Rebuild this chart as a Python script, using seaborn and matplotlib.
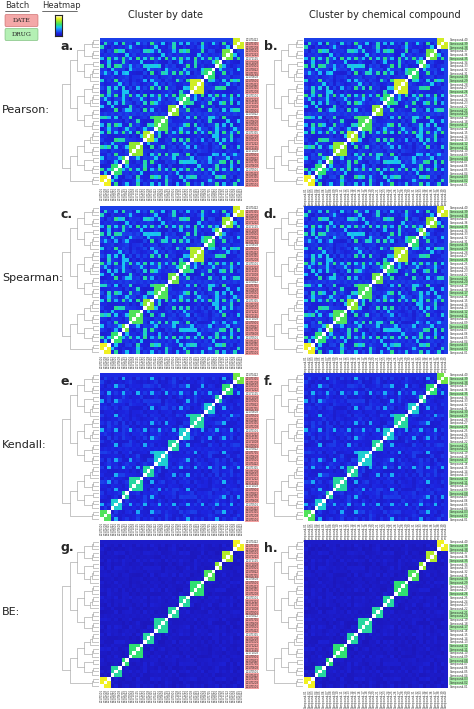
import numpy as np
import matplotlib
matplotlib.use("Agg")
import matplotlib.pyplot as plt
import seaborn as sns
from matplotlib.colors import LinearSegmentedColormap
from matplotlib.patches import FancyBboxPatch

sns.set_style("white")
plt.rcParams['font.family'] = ['DejaVu Sans']

methods = ["Pearson:", "Spearman:", "Kendall:", "BE:"]
letters = [["a.", "b."], ["c.", "d."], ["e.", "f."], ["g.", "h."]]
col_titles = ["Cluster by date", "Cluster by chemical compound"]
block_sizes = [3, 3, 2, 4, 3, 4, 3, 3, 4, 3, 2, 3, 3]
block_levels = {
    "Pearson:":  [0.85, 0.55, 0.60, 0.70, 0.75, 0.60, 0.70, 0.55, 0.80, 0.55, 0.60, 0.65, 0.80],
    "Spearman:": [0.85, 0.55, 0.65, 0.60, 0.70, 0.60, 0.65, 0.55, 0.75, 0.55, 0.65, 0.70, 0.80],
    "Kendall:":  [0.60, 0.45, 0.50, 0.50, 0.50, 0.45, 0.50, 0.45, 0.50, 0.45, 0.50, 0.55, 0.65],
    "BE:":       [0.85, 0.50, 0.55, 0.55, 0.50, 0.50, 0.50, 0.50, 0.55, 0.60, 0.70, 0.75, 0.85],
}
background = {"Pearson:": 0.07, "Spearman:": 0.07, "Kendall:": 0.06, "BE:": 0.02}
texture_gain = {"Pearson:": 1.3, "Spearman:": 1.25, "Kendall:": 0.9, "BE:": 0.5}
row_profile = [0.30, 0.05, 0.22, 0.10, 0.35, 0.02, 0.18, 0.27, 0.08, 0.15,
               0.33, 0.04, 0.20, 0.12, 0.28, 0.06, 0.24, 0.09, 0.31, 0.14,
               0.03, 0.26, 0.11, 0.19, 0.36, 0.07, 0.23, 0.13, 0.29, 0.05,
               0.21, 0.16, 0.34, 0.02, 0.25, 0.10, 0.17, 0.32, 0.08, 0.20]
date_labels = ["2017%02d%02d" % (1 + i % 12, 1 + (i * 7) % 28) for i in range(40)]
drug_labels = ["Compound-%02d" % (i + 1) for i in range(40)]

cmap = LinearSegmentedColormap.from_list("j", [(0.0, "#1c14b4"), (0.12, "#1c24e0"),
                                              (0.3, "#1a80ff"), (0.42, "#18c8f0"),
                                              (0.55, "#30e070"), (0.7, "#90e830"),
                                              (0.85, "#f0f020"), (1.0, "#ffffff")])

def build(method):
    p = np.array(row_profile)
    n = len(p)
    i, j = np.meshgrid(np.arange(n), np.arange(n), indexing="ij")
    T = p[(i * j + i + j) % n] * texture_gain[method]
    M = background[method] + np.where(T > 0.3, T, T * 0.4)
    s = 0
    for b, lv in zip(block_sizes, block_levels[method]):
        M[s:s + b, s:s + b] = lv
        s += b
    np.fill_diagonal(M, 1.0)
    return np.clip(M, 0, 1)[::-1, :]

def draw_dendro(ax):
    n = sum(block_sizes)
    ys = np.arange(n) + 0.5
    nodes = []
    s = 0
    for b in block_sizes:
        cur = [(0.0, ys[s])]
        for k in range(1, b):
            y0 = cur[-1][1]; h = 0.15 + 0.05 * k
            ax.plot([0, h, h, cur[-1][0]], [ys[s + k], ys[s + k], y0, y0], color="#999", lw=0.4)
            cur.append((h, (ys[s + k] + y0) / 2))
        nodes.append(cur[-1]); s += b
    level = 0.5
    while len(nodes) > 1:
        new = []
        for a in range(0, len(nodes) - 1, 2):
            (x1, y1), (x2, y2) = nodes[a], nodes[a + 1]
            ax.plot([x1, level, level, x2], [y1, y1, y2, y2], color="#999", lw=0.4)
            new.append((level, (y1 + y2) / 2))
        if len(nodes) % 2: new.append(nodes[-1])
        nodes = new; level += 0.25
    ax.set_xlim(level, 0); ax.set_ylim(n, 0); ax.axis("off")

W, H = 474, 709
fig = plt.figure(figsize=(W / 100, H / 100), dpi=100)
def ax_px(x0, y0, x1, y1):
    return fig.add_axes([x0 / W, 1 - y1 / H, (x1 - x0) / W, (y1 - y0) / H])

tops = [38, 206, 373, 540]
hm_h = 148
lefts = [100, 304]
for r, m in enumerate(methods):
    M = build(m)
    t = tops[r]
    for c in range(2):
        L = lefts[c]
        ax = ax_px(L, t, L + 144, t + hm_h)
        labs = date_labels if c == 0 else drug_labels
        sns.heatmap(M, ax=ax, cmap=cmap, vmin=0, vmax=1, cbar=False,
                    xticklabels=labs, yticklabels=labs[::-1])
        ax.yaxis.tick_right()
        ax.tick_params(axis="y", labelsize=1.9, length=0, pad=1, rotation=0)
        ax.tick_params(axis="x", labelsize=1.9, length=0, pad=1, rotation=90)
        for k, lab in enumerate(ax.get_yticklabels()):
            if (c == 0 and k % 5 != 0) or (c == 1 and k % 9 in (1, 2, 5)):
                lab.set_bbox(dict(boxstyle="square,pad=0.1", lw=0,
                                  fc="#f4a0a0" if c == 0 else "#a8eca8"))
        dax = ax_px(L - 45, t, L - 1, t + hm_h)
        draw_dendro(dax)
        fig.text((L - 40) / W, 1 - (t + 8) / H, letters[r][c], fontsize=9, fontweight="bold",
                 ha="left", va="center")
    fig.text(2 / W, 1 - (t + 72) / H, m, fontsize=8, ha="left", va="center", color="#222")

fig.text(165 / W, 1 - 15 / H, col_titles[0], fontsize=7, ha="center", va="center", color="#222")
fig.text(385 / W, 1 - 15 / H, col_titles[1], fontsize=7, ha="center", va="center", color="#222")
fig.text(5 / W, 1 - 6 / H, "Batch", fontsize=6, ha="left", va="center", color="#333")
fig.text(42 / W, 1 - 6 / H, "Heatmap", fontsize=6, ha="left", va="center", color="#333")
fig.add_artist(plt.Line2D([5 / W, 29 / W], [1 - 11 / H] * 2, color="#333", lw=0.5))
fig.add_artist(plt.Line2D([42 / W, 77 / W], [1 - 11 / H] * 2, color="#333", lw=0.5))
for (y, lab, fc, ec) in [(20, "DATE", "#f4a8a8", "#d07070"), (34, "DRUG", "#b4f0b4", "#80c080")]:
    fig.add_artist(FancyBboxPatch((6 / W, 1 - (y + 5) / H), 31 / W, 9 / H,
                                  boxstyle="round,pad=0.002", fc=fc, ec=ec, lw=0.5))
    fig.text(21.5 / W, 1 - (y + 0.5) / H, lab, fontsize=4.5, ha="center", va="center",
             family="DejaVu Serif")
cax = ax_px(55, 15, 62, 36)
cax.imshow(np.linspace(1, 0, 50)[:, None], aspect="auto", cmap=cmap)
cax.set_xticks([]); cax.set_yticks([])

fig.savefig("out.png", dpi=100)
